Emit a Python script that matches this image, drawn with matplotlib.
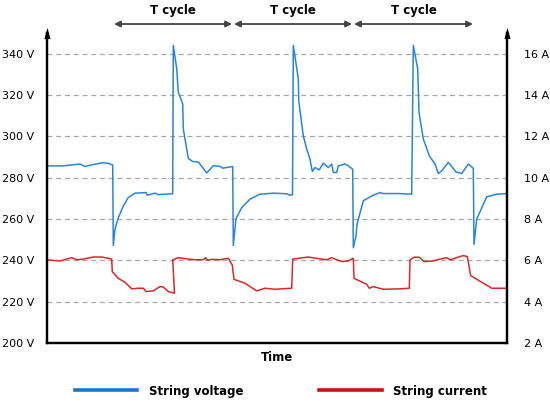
import matplotlib
matplotlib.use("Agg")
import matplotlib.pyplot as plt
from matplotlib.lines import Line2D

# time in arbitrary units (no scale shown on the chart)
t_volt = [0, 16, 33, 38, 43, 55, 61, 65.7,
          66.3, 68, 71.3, 76.3, 81.3, 88, 99, 100.3, 108, 111.3, 125.7,
          126.3, 129.7, 131.3, 135.7, 136.3, 139.7, 141.3, 145.7, 151.3, 159.7, 166.3, 173, 175.7, 185.7,
          186.3, 189, 194.7, 203, 213, 226.3, 239.7, 243, 245.5,
          246.3, 251.3, 251.7, 256.3, 259.7, 263, 265.3, 268, 272.3, 276.3, 281.3, 284.7, 286.3, 289.7, 291.3, 298, 301.3, 305.7,
          306.3, 309, 310, 316.3, 324.7, 333, 336.3, 353, 364.7,
          366.3, 370.7, 372, 376.3, 382.3, 388, 391.3, 394.7, 401.3, 409, 414.7, 421.3, 426.3,
          427, 429.7, 439.7, 449.7, 459.7]
voltage = [285.7, 285.7, 286.6, 285.4, 286, 287.2, 287, 286.1,
           247.2, 255, 260.6, 266.3, 270.4, 272.5, 272.8, 271.5, 272.5, 271.8, 272.2,
           344, 332.7, 321.4, 315.7, 303.6, 293.9, 289.3, 287.8, 287.6, 282.3, 285.8, 285.5, 284.6, 285.4,
           247.2, 260.2, 265.5, 269.6, 272, 272.5, 272.2, 271.5, 271.7,
           344, 327.9, 317.3, 300.3, 293.9, 289, 283, 284.9, 283.8, 287, 284.9, 286.6, 282.5, 282.5, 285.7, 286.6, 285.7, 284.1,
           246.1, 251.8, 257.4, 268.8, 271.2, 272.8, 272.3, 272.3, 272,
           344, 332.7, 311.6, 298.7, 290.6, 286.6, 282, 283.3, 287.4, 282.8, 282, 286.6, 284.5,
           247.7, 259.9, 270.7, 272, 272.3]

t_curr = [0, 13, 24.7, 29.7, 36.3, 46.3, 54.7, 64.7,
          65.3, 71.3, 78, 84.7, 91.3, 96.3, 99, 106.3, 113, 116.3, 121.3, 127.5,
          125.7, 131.3, 141.3, 148, 156.3, 158.7, 160.7, 164.7, 173, 181.3,
          185.3, 187, 198, 209.7, 218, 228, 244.7,
          245.7, 261.3, 274.7, 279.7, 284.7, 288, 294.7, 301.3, 306.3,
          307, 319.7, 322.3, 326.3, 336.3, 353, 362.3,
          363, 367, 372.3, 377, 386.3, 393, 399.7, 403, 409.7, 416.3, 420.3,
          423.7, 434.7, 444.7, 459.7]
current = [6.02, 5.97, 6.13, 6.03, 6.06, 6.16, 6.16, 6.06,
           5.45, 5.13, 4.94, 4.62, 4.65, 4.65, 4.49, 4.52, 4.73, 4.71, 4.49, 4.41,
           6.02, 6.13, 6.06, 6.03, 6.03, 6.13, 6.0, 6.05, 6.03, 6.1,
           5.77, 5.08, 4.89, 4.52, 4.65, 4.6, 4.65,
           6.06, 6.16, 6.06, 6.03, 6.13, 6.06, 5.94, 5.97, 6.1,
           5.13, 4.84, 4.65, 4.73, 4.6, 4.62, 4.65,
           6.02, 6.15, 6.15, 5.94, 5.97, 6.06, 6.13, 6.02, 6.13, 6.23, 6.18,
           5.26, 4.94, 4.65, 4.65]

cycle_edges = [66, 186, 306, 427]
volt_ticks = [200, 220, 240, 260, 280, 300, 320, 340]
amp_ticks = [2, 4, 6, 8, 10, 12, 14, 16]

blue = "#2b85d6"
red = "#d42a2a"

fig = plt.figure(figsize=(5.5, 4.04), dpi=100)
ax = fig.add_axes([47 / 550, 1 - 343 / 404, 460 / 550, 310 / 404])
ax2 = ax.twinx()

ax.plot(t_volt, voltage, color=blue, lw=1.1)
ax2.plot(t_curr, current, color=red, lw=1.1)

ax.set_xlim(0, 460)
ax.set_ylim(200, 350)
ax2.set_ylim(2, 17)

ax.set_yticks(volt_ticks)
ax.set_yticklabels([f"{v} V" for v in volt_ticks], fontsize=8)
ax2.set_yticks(amp_ticks)
ax2.set_yticklabels([f"{a} A" for a in amp_ticks], fontsize=8)
ax.set_xticks([])
ax.tick_params(axis="y", length=0, pad=9)
ax2.tick_params(axis="y", length=0, pad=12)

for a in (ax, ax2):
    a.spines["top"].set_visible(False)
    for s in ("left", "right", "bottom"):
        a.spines[s].set_linewidth(1.6)
        a.spines[s].set_color("black")

ax.yaxis.grid(True, color="#a8a8a8", linestyle=(0, (4, 3)), lw=0.9)
ax.set_axisbelow(True)

# arrow heads on the two vertical axes (narrow triangle)
head = [(-0.55, -1), (0.55, -1), (0, 1), (-0.55, -1)]
for xa in (0, 1):
    ax.plot([xa], [1.0], marker=head, color="black", ms=8, mew=0,
            transform=ax.transAxes, clip_on=False)

ax.set_xlabel("Time", fontsize=8.5, fontweight="bold", labelpad=6)

# T cycle arrows
trans = ax.get_xaxis_transform()
for i in range(len(cycle_edges) - 1):
    x0, x1 = cycle_edges[i], cycle_edges[i + 1]
    ax.annotate("", xy=(x1 - 1, 1.029), xytext=(x0 + 1, 1.029), xycoords=trans, textcoords=trans,
                arrowprops=dict(arrowstyle="<|-|>", color="#444444", lw=1.3,
                                mutation_scale=9, shrinkA=0, shrinkB=0),
                annotation_clip=False)
    ax.text((x0 + x1) / 2, 1.071, "T cycle", transform=trans, ha="center", va="center",
            fontsize=8.5, fontweight="bold")

handles = [Line2D([], [], color="#1f74c6", lw=2.6), Line2D([], [], color="#c41616", lw=2.6)]
fig.legend(handles, ["String voltage", "String current"], loc="center",
           bbox_to_anchor=(281 / 550, 1 - 391 / 404), ncol=2, frameon=False,
           prop={"size": 8.5, "weight": "bold"}, handlelength=5.3, handletextpad=1.0,
           columnspacing=6.4)

fig.savefig("out.png", dpi=100)
